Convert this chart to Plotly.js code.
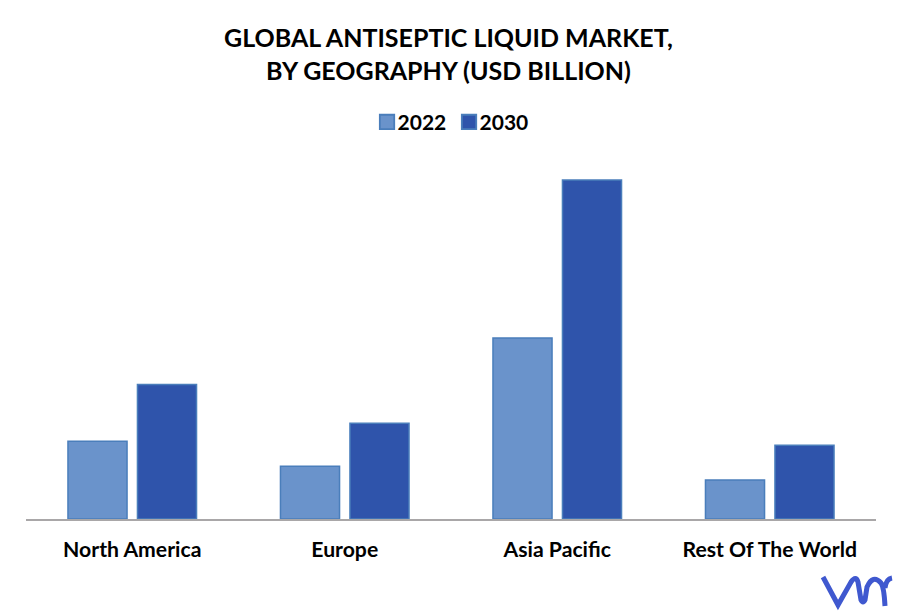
<!DOCTYPE html>
<html><head><meta charset="utf-8">
<script src="https://cdn.plot.ly/plotly-3.0.1.min.js"></script>
<style>html,body{margin:0;padding:0;background:#fff}
.legend .scrollbox{clip-path:none !important}</style></head>
<body><div id="chart" style="width:897px;height:612px"></div>
<script>
const categories = ["North America","Europe","Asia Pacific","Rest Of The World"];
const values2022 = [7.8,5.3,18.15,3.9];
const values2030 = [13.5,9.6,34.0,7.4];
const L=26,R=876,T=160,B=519;
const px=(x)=>(x-L)/(R-L), py=(y)=>(B-y)/(B-T);
const P=(x,y)=>px(x)+","+py(y);
const mk=(fill,line)=>({color:fill,line:{color:line,width:1.5}});
const font={family:"Lato, 'Open Sans', sans-serif",color:"#000"};
Plotly.newPlot("chart",[
 {type:"bar",name:"2022",x:categories,y:values2022,marker:mk("#6a93cb","#4a7ebb")},
 {type:"bar",name:"2030",x:categories,y:values2030,marker:mk("#2f54ab","#4a7ebb")}
],{
 width:897,height:612,paper_bgcolor:"#fff",plot_bgcolor:"#fff",
 margin:{l:L,r:897-R,t:T,b:612-B},
 barmode:"group",bargap:0.346,bargroupgap:0.15,
 title:{text:"<b>GLOBAL ANTISEPTIC LIQUID MARKET,<br>BY GEOGRAPHY (USD BILLION)</b>",x:0.5,xanchor:"center",y:0.9225,yanchor:"middle",font:{...font,size:25}},
 showlegend:true,
 legend:{orientation:"h",x:0.4865,xanchor:"center",y:1.105,yanchor:"middle",font:{...font,size:21,weight:700},traceorder:"normal",itemwidth:30,entrywidth:37,entrywidthmode:"pixels"},
 xaxis:{type:"category",showgrid:false,zeroline:false,showline:true,linecolor:"#a9a7a8",linewidth:2,ticks:"",tickfont:{...font,size:21.2,weight:700},ticklabelstandoff:11},
 yaxis:{range:[0,36],visible:false,showgrid:false,zeroline:false},
 shapes:[{type:"path",xref:"paper",yref:"paper",
   path:"M"+P(823,577)+" L"+P(838,605)+" L"+P(851,582)+" Q"+P(856,575)+" "+P(858,582)+" L"+P(861,600)+" Q"+P(863,604)+" "+P(865,600)+" L"+P(867,587)+" Q"+P(873,574)+" "+P(881,583)+" Q"+P(884,587)+" "+P(885,606)+" M"+P(885,588)+" Q"+P(886,579)+" "+P(892,578),
   line:{color:"#3f58cf",width:5},fillcolor:"rgba(0,0,0,0)"}]
},{displayModeBar:false}).then(()=>{
  document.querySelectorAll(".legendpoints path").forEach(p=>{
    p.setAttribute("transform","translate(29.5,0) scale(1.2)");
  });
  document.querySelectorAll(".legend .scrollbox, .legend text").forEach(n=>{
    n.removeAttribute("clip-path");
  });
});
</script></body></html>
